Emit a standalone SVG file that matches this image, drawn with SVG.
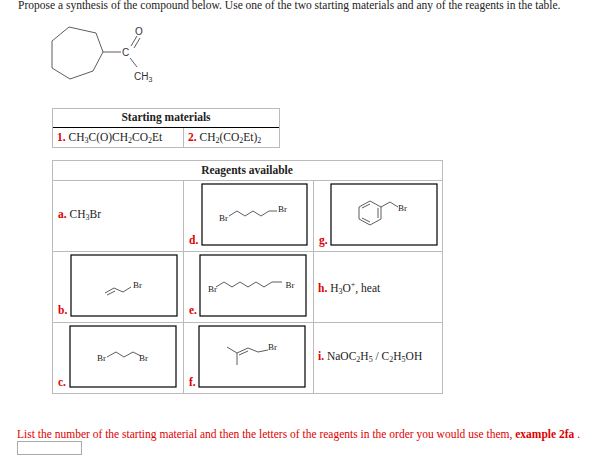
<svg xmlns="http://www.w3.org/2000/svg" width="609" height="457" viewBox="0 0 609 457">
<style>
.t{font-family:"Liberation Serif",serif;font-size:11.5px;fill:#222}
.b{font-weight:bold}
.r{fill:#e00000;font-weight:bold}
.s{font-family:"Liberation Serif",serif;font-size:9px;fill:#222}
.g{fill:none;stroke:#bbb;stroke-width:1}
.box{fill:none;stroke:#000;stroke-width:1.2}
.m{fill:none;stroke:#333;stroke-width:0.8}
</style>
<rect width="609" height="457" fill="#fff"/>
<text class="t" x="18" y="9" font-size="11">Propose a synthesis of the compound below. Use one of the two starting materials and any of the reagents in the table.</text>
<g id="target">
<polygon class="m" stroke-width="1" points="69,27 96,33 103,52 93,71 70,79 52,68 52,41"/>
<line class="m" x1="103" y1="52" x2="121" y2="52"/>
<line class="m" x1="131" y1="46" x2="137" y2="36"/>
<line class="m" x1="134" y1="48" x2="140" y2="38"/>
<line class="m" x1="130" y1="58" x2="137" y2="67"/>
<text x="122" y="56" font-family="Liberation Sans,sans-serif" font-size="10" fill="#333">C</text>
<text x="135" y="35" font-family="Liberation Sans,sans-serif" font-size="10" fill="#333">O</text>
<text x="134" y="80" font-family="Liberation Sans,sans-serif" font-size="10" fill="#333">CH<tspan font-size="7" dy="2">3</tspan></text>
</g>
<g id="start-table">
<rect class="g" x="52.5" y="108.5" width="227" height="39"/>
<line x1="53" y1="127.5" x2="279" y2="127.5" stroke="#000"/>
<line class="g" x1="183.5" y1="128" x2="183.5" y2="147"/>
<text class="t b" x="166" y="121" text-anchor="middle">Starting materials</text>
<text class="t" x="57" y="141"><tspan class="r">1.</tspan> CH<tspan font-size="8" dy="2">3</tspan><tspan dy="-2">C(O)CH</tspan><tspan font-size="8" dy="2">2</tspan><tspan dy="-2">CO</tspan><tspan font-size="8" dy="2">2</tspan><tspan dy="-2">Et</tspan></text>
<text class="t" x="188" y="141"><tspan class="r">2.</tspan> CH<tspan font-size="8" dy="2">2</tspan><tspan dy="-2">(CO</tspan><tspan font-size="8" dy="2">2</tspan><tspan dy="-2">Et)</tspan><tspan font-size="8" dy="2">2</tspan></text>
</g>
<g id="reagent-table">
<rect class="g" x="52.5" y="160.5" width="390" height="233"/>
<line class="g" x1="53" y1="180.5" x2="442" y2="180.5"/>
<line class="g" x1="53" y1="251.5" x2="442" y2="251.5"/>
<line class="g" x1="53" y1="322.5" x2="442" y2="322.5"/>
<line class="g" x1="183.5" y1="181" x2="183.5" y2="393"/>
<line class="g" x1="313.5" y1="181" x2="313.5" y2="393"/>
<text class="t b" x="247" y="174" text-anchor="middle">Reagents available</text>
</g>
<g id="a"><text class="t" x="58" y="218"><tspan class="r">a.</tspan> CH<tspan font-size="8" dy="2">3</tspan><tspan dy="-2">Br</tspan></text></g>
<g id="d">
<rect class="box" x="202" y="184" width="105" height="61"/>
<text class="t r" x="189" y="244" font-size="9">d.</text>
<polyline class="m" points="229,216 237,211 245,216 253,211 261,216 269,211 277,211"/>
<text class="s" x="219" y="221">Br</text><text class="s" x="278" y="212">Br</text>
</g>
<g id="g">
<rect class="box" x="331" y="184" width="106" height="61"/>
<text class="t r" x="319" y="244" font-size="9">g.</text>
<polygon class="m" points="359,207 370,201 381,207 381,219 370,225 359,219"/>
<line class="m" x1="362" y1="208" x2="370" y2="204"/><line class="m" x1="378" y1="208" x2="378" y2="218"/><line class="m" x1="362" y1="218" x2="370" y2="222"/>
<polyline class="m" points="381,207 390,202 398,207"/>
<text class="s" x="398" y="211">Br</text>
</g>
<g id="b">
<rect class="box" x="71" y="255" width="106" height="61"/>
<text class="t r" x="58" y="314" font-size="9">b.</text>
<polyline class="m" points="105,293 114,288 123,292 131,287"/>
<line class="m" x1="107" y1="295" x2="115" y2="291"/>
<text class="s" x="133" y="288">Br</text>
</g>
<g id="e">
<rect class="box" x="200" y="255" width="106" height="61"/>
<text class="t r" x="189" y="314" font-size="9">e.</text>
<polyline class="m" points="216,287 224,282 232,287 240,282 248,287 256,282 264,287 272,282 282,282"/>
<text class="s" x="208" y="292">Br</text><text class="s" x="290" y="288" text-anchor="middle">Br</text>
</g>
<g id="h"><text class="t" x="318" y="292"><tspan class="r">h.</tspan> H<tspan font-size="8" dy="2">3</tspan><tspan dy="-2">O</tspan><tspan font-size="8" dy="-5">+</tspan><tspan dy="5">, heat</tspan></text></g>
<g id="c">
<rect class="box" x="70" y="326" width="106" height="61"/>
<text class="t r" x="58" y="386" font-size="9">c.</text>
<polyline class="m" points="107,357 116,352 124,357 133,352 141,356"/>
<text class="s" x="97" y="361">Br</text><text class="s" x="139" y="361">Br</text>
</g>
<g id="f">
<rect class="box" x="199" y="326" width="106" height="61"/>
<text class="t r" x="189" y="386" font-size="9">f.</text>
<polyline class="m" points="227,347 237,353 248,348 258,352 268,350"/>
<line class="m" x1="237" y1="353" x2="237" y2="365"/>
<line class="m" x1="239" y1="355" x2="248" y2="351"/>
<text class="s" x="268" y="350">Br</text>
</g>
<g id="i"><text class="t" x="318" y="360"><tspan class="r">i.</tspan> NaOC<tspan font-size="8" dy="2">2</tspan><tspan dy="-2">H</tspan><tspan font-size="8" dy="2">5</tspan><tspan dy="-2"> / C</tspan><tspan font-size="8" dy="2">2</tspan><tspan dy="-2">H</tspan><tspan font-size="8" dy="2">5</tspan><tspan dy="-2">OH</tspan></text></g>
<text class="t" x="17" y="438" style="fill:#e00000">List the number of the starting material and then the letters of the reagents in the order you would use them, <tspan font-weight="bold">example 2fa</tspan> .</text>
<rect x="17.5" y="441.5" width="64" height="13" fill="none" stroke="#aaa"/>
</svg>
